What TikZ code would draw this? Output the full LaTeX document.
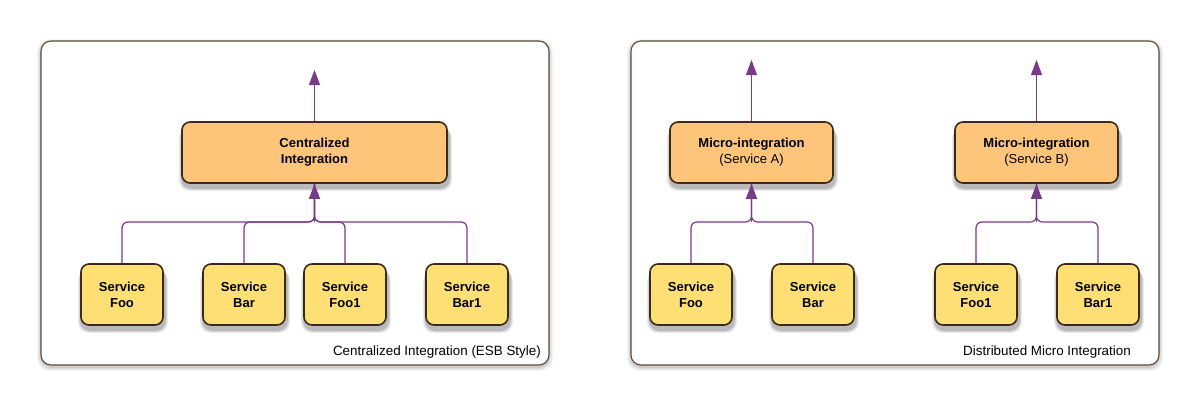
\documentclass[tikz,border=0pt]{standalone}
\usepackage{fontspec}
\setmainfont{Liberation Sans}
\usetikzlibrary{arrows.meta,positioning}
\definecolor{orangefill}{RGB}{252,197,122}
\definecolor{yellowfill}{RGB}{253,223,116}
\definecolor{boxborder}{RGB}{58,42,24}
\definecolor{panelborder}{RGB}{92,74,52}
\definecolor{arrowpurple}{RGB}{122,58,138}
\pgfdeclarelayer{bg}
\pgfdeclarelayer{shadowlayer}
\pgfsetlayers{bg,shadowlayer,main}
\begin{document}
\begin{tikzpicture}[x=1pt,y=-1pt,
  panel/.style={draw=panelborder,line width=1.1pt,fill=white,rounded corners=10pt},
  intbox/.style={draw=boxborder,line width=1.6pt,fill=orangefill,rounded corners=8pt,
    minimum width=265pt,minimum height=61pt,align=center,inner sep=0pt,
    font=\fontsize{13}{16}\selectfont},
  svcbox/.style={draw=boxborder,line width=1.6pt,fill=yellowfill,rounded corners=8pt,
    minimum width=82pt,minimum height=61pt,align=center,inner sep=0pt,
    font=\bfseries\fontsize{13}{16}\selectfont},
  shad/.style={fill=black,rounded corners=9pt},
  link/.style={draw=arrowpurple,line width=1.2pt,rounded corners=6pt},
  arr/.style={draw=arrowpurple,line width=1.2pt,-{Triangle[width=11pt,length=15pt]}},
  caption/.style={anchor=east,font=\fontsize{13.4}{16}\selectfont,inner sep=0pt}
]
\useasboundingbox (0,0) rectangle (1200,415);
% panels
\begin{pgfonlayer}{bg}
\foreach \d/\o in {4/0.04,3/0.05,2/0.06,1/0.07}{
  \path[fill=black,opacity=\o,rounded corners=12pt] (41-\d,41-\d+2) rectangle (549+\d,365+\d+2);
  \path[fill=black,opacity=\o,rounded corners=12pt] (631-\d,41-\d+2) rectangle (1159+\d,365+\d+2);
}
\path[panel] (41,41) rectangle (549,365);
\path[panel] (631,41) rectangle (1159,365);
\end{pgfonlayer}
\node[caption] (cap1) at (541,352) {Centralized Integration (ESB Style)};
\node[caption] (cap2) at (1131,352) {Distributed Micro Integration};

% left panel
\node[intbox] (central) at (314.5,152.5) {\textbf{Centralized}\\\textbf{Integration}};
\node[svcbox] (foo) at (122,294.5) {Service\\Foo};
\node[svcbox] (bar) at (244,294.5) {Service\\Bar};
\node[svcbox] (foo1) at (345,294.5) {Service\\Foo1};
\node[svcbox] (bar1) at (467,294.5) {Service\\Bar1};
\coordinate (j1) at (314.5,222);
\coordinate (t1) at (314.5,70);
\foreach \s in {foo,bar,foo1,bar1}{
  \draw[link] (\s.north) |- (j1) -- (central.south);
}
\draw[arr] (j1) -- (central.south);
\draw[arr] (central.north) -- (t1);

% right panel
\node[intbox,minimum width=163pt] (mia) at (751.5,152.5) {\textbf{Micro-integration}\\(Service A)};
\node[intbox,minimum width=163pt] (mib) at (1036.5,152.5) {\textbf{Micro-integration}\\(Service B)};
\node[svcbox] (rfoo) at (691,294.5) {Service\\Foo};
\node[svcbox] (rbar) at (813,294.5) {Service\\Bar};
\node[svcbox] (rfoo1) at (976,294.5) {Service\\Foo1};
\node[svcbox] (rbar1) at (1098,294.5) {Service\\Bar1};
\coordinate (ja) at (751.5,222);
\coordinate (jb) at (1036.5,222);
\coordinate (ta) at (751.5,60);
\coordinate (tb) at (1036.5,60);
\foreach \s in {rfoo,rbar}{
  \draw[link] (\s.north) |- (ja) -- (mia.south);
}
\foreach \s in {rfoo1,rbar1}{
  \draw[link] (\s.north) |- (jb) -- (mib.south);
}
\draw[arr] (ja) -- (mia.south);
\draw[arr] (jb) -- (mib.south);
\draw[arr,line width=0.8pt] (mia.north) -- (ta);
\draw[arr,line width=0.8pt] (mib.north) -- (tb);

% box shadows
\begin{pgfonlayer}{shadowlayer}
\foreach \n in {central,foo,bar,foo1,bar1,mia,mib,rfoo,rbar,rfoo1,rbar1}{
  \foreach \d/\o in {3/0.08,2/0.1,1/0.12}{
    \path[fill=black,opacity=\o,rounded corners=10pt]
      ([xshift=-\d pt+1pt,yshift=-\d pt-4pt]\n.north west) rectangle ([xshift=\d pt+1pt,yshift=-\d pt-4pt]\n.south east);
  }
}
\end{pgfonlayer}
\end{tikzpicture}
\end{document}
